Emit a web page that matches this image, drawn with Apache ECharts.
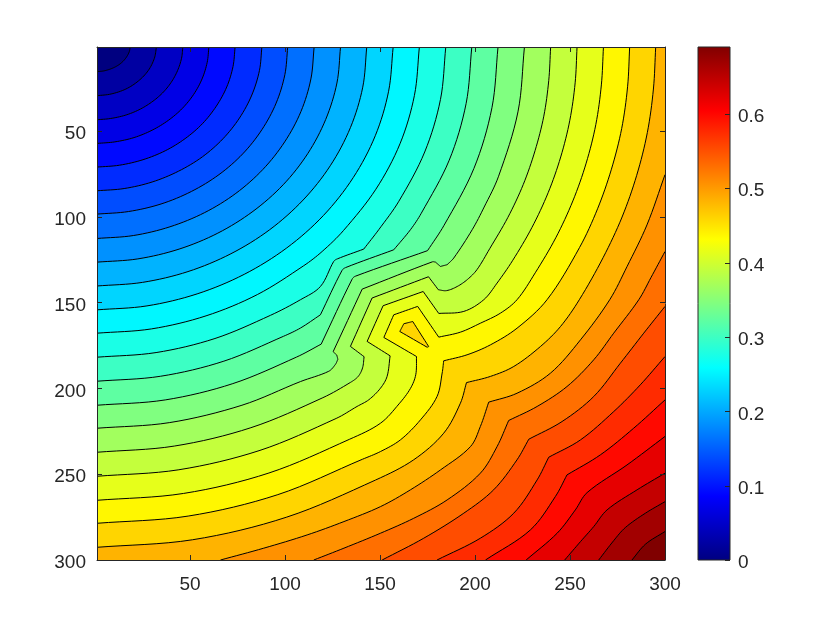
<!DOCTYPE html>
<html>
<head>
<meta charset="utf-8">
<style>
  html, body { margin: 0; padding: 0; background: #fff; }
  #main { width: 840px; height: 630px; }
</style>
<script src="https://cdn.jsdelivr.net/npm/echarts@6/dist/echarts.min.js"></script>
</head>
<body>
<div id="main"></div>
<script>
// contour lines, as [x, y] in data units, from the left/bottom edge to the top/right edge
const line01 = [[1,15.4],[4.8,14.9],[9.3,13.3],[13.1,10.9],[16,7.7],[17.9,4],[18.5,1]];
const line02 = [[1,29.4],[8.4,28.4],[16.2,25.5],[22.8,20.8],[28,14.7],[31.2,7.6],[32.3,1]];
const line03 = [[1,43.4],[8,42.7],[15.8,40.8],[23.1,37.6],[29.7,33.2],[35.4,27.9],[40,21.7],[43.4,14.8],[45.5,7.6],[46.2,1]];
const line04 = [[1,57.2],[10.4,56.3],[20.5,53.8],[30,49.5],[38.5,43.8],[45.9,36.8],[51.9,28.6],[56.3,19.6],[59,10],[59.9,1]];
const line05 = [[1,71],[12.8,69.9],[25.2,66.7],[36.9,61.5],[47.4,54.4],[56.5,45.7],[63.8,35.5],[69.3,24.3],[72.6,12.4],[73.7,1]];
const line06 = [[1,84.8],[15.3,83.5],[30,79.7],[43.9,73.4],[56.5,65],[67.3,54.5],[76,42.4],[82.5,29],[86.5,14.8],[87.8,1]];
const line07 = [[1,98.4],[17.6,96.9],[34.7,92.5],[50.7,85.2],[65.2,75.4],[77.7,63.3],[87.8,49.2],[95.3,33.7],[99.9,17.1],[101.4,1]];
const line08 = [[1,112.6],[20.1,110.9],[39.4,105.8],[57.7,97.5],[74.1,86.3],[88.3,72.4],[99.8,56.3],[108.4,38.5],[113.6,19.6],[115.3,1]];
const line09 = [[1,126.4],[22.5,124.5],[44.2,118.8],[64.6,109.5],[83.1,96.8],[99,81.3],[111.9,63.2],[121.4,43.2],[127.3,22],[129.2,1]];
const line10 = [[1,140.3],[24.9,138.2],[48.9,131.9],[71.5,121.5],[91.9,107.5],[109.5,90.2],[123.8,70.2],[134.4,48],[140.9,24.4],[143,1]];
const line11 = [[1,154.2],[27.3,151.9],[53.7,144.9],[78.5,133.5],[100.9,118.1],[120.2,99.2],[135.9,77.1],[147.5,52.7],[154.5,26.8],[156.9,1]];
const line12 = [[1,167.8],[29.7,165.3],[58.4,157.7],[85.4,145.3],[109.8,128.5],[119.5,120.2],[130.8,107.9],[147.8,83.9],[160.5,57.4],[168.1,29.2],[170.7,1]];
const line13 = [[1,181.8],[32.1,179.1],[63.1,170.9],[92.3,157.4],[108.1,148.3],[118.6,140.6],[125.6,126],[127.5,124.5],[141.4,118.8],[149.3,107.5],[159.9,90.9],[173.5,62.2],[181.8,31.6],[184.6,1]];
const line14 = [[1,195.8],[34.5,192.9],[67.8,184.1],[99.2,169.6],[108.1,164.8],[118.6,157.1],[130,131.2],[132,129.5],[157.2,119.2],[166,107.5],[171.7,97.9],[186.4,67],[195.3,34],[198.3,1]];
const line15 = [[1,209.8],[36.9,206.7],[72.5,197.2],[106.1,181.7],[119,174.2],[135.3,136.3],[137,134.6],[175,119.7],[183.7,104.9],[199.4,71.8],[208.9,36.4],[212.1,1]];
const line16 = [[1,223.2],[39.3,219.9],[77.3,209.8],[108.1,196],[123,190],[126.5,186],[127.8,183],[127.2,180.5],[125.3,178.6],[140.6,142.1],[177.6,126.2],[179.2,126.4],[181.8,128.9],[185.3,127.9],[188.8,124],[198.5,107.5],[204.8,94.3],[212.4,76.3],[222.6,38.8],[226,1]];
const line17 = [[1,237.2],[41.7,233.6],[82,222.9],[119.9,205.4],[134.4,196.5],[138.5,193],[140.8,188],[141.6,181.5],[134.4,175.5],[145.8,147.3],[175.5,134.9],[180.7,142.5],[185,143],[190.6,140.6],[196,136.5],[201,130.8],[207.7,118.6],[217.3,100.3],[225.4,81.1],[231.6,61.4],[236.2,41.3],[238.8,20.6],[239.8,1]];
const line18 = [[1,251.2],[44.1,247.4],[86.8,236.1],[126.9,217.5],[137.9,210.5],[144.1,206.6],[150.2,199.9],[153.7,193],[155.3,181],[143.2,172.6],[151.6,151.8],[172.7,143.5],[180.9,156.3],[194.1,155.1],[204.6,148.3],[211.6,138.6],[219.7,125.6],[229.9,106.3],[238.5,85.9],[245.1,65.1],[249.9,43.7],[252.7,21.9],[253.7,1]];
const line19 = [[1,265.2],[46.6,261.2],[91.5,249.3],[133.8,229.7],[150.2,220.3],[160,209],[166,200],[168.8,192],[169.2,181.4],[152,170.3],[157.2,157.1],[169.8,152.2],[180.9,170.1],[192.3,167.2],[202.8,162],[213.4,156.1],[222.1,148.3],[231.7,132.6],[242.5,112.2],[251.5,90.7],[258.5,68.7],[263.6,46.1],[266.5,23.1],[267.6,1]];
const line20 = [[1,278.6],[49,274.4],[96.2,261.9],[140.7,241.3],[150.2,236.8],[160.7,230],[171.3,218.3],[180,204.7],[182.7,191],[183.5,183.9],[195.8,180.4],[208.1,174.6],[222.1,164.9],[237.9,148.3],[255,117.9],[264.5,95.3],[271.8,72.2],[277.2,48.5],[280.3,24.2],[281.4,1]];
const line21 = [[1,292.6],[51.3,288.2],[100.9,275],[147.6,253.4],[167.7,241.6],[183.5,226.1],[192.3,208.6],[195.5,196.6],[208.1,193],[220.4,187.2],[234.4,175.6],[245,163.9],[254.9,148.3],[267.4,123.8],[277.4,100.1],[285.1,75.8],[290.7,50.9],[293.9,25.5],[295.1,1]];
const line22 = [[66,300],[88.8,293.1],[111.6,285.4],[131,277.6],[150.2,268.9],[166,259.1],[181.8,247.5],[197.6,233.9],[202.8,222.2],[207.2,208],[222.1,202.8],[239.7,191.1],[255.5,171.7],[270.9,148.3],[280,129],[290.5,104.7],[300,75.4]];
const line23 = [[115.1,300],[131,293.1],[150.2,284.4],[167.7,275.7],[185.3,265],[202.8,249.4],[211.6,233.9],[217.7,218.7],[232.7,210.5],[248.4,198.9],[262.5,183.3],[273,167.8],[286.2,148.3],[292.6,135.4],[300,120.2]];
const line24 = [[151.1,300],[173,287.3],[194.1,272.7],[209.8,259.1],[222.1,241.6],[228.3,229.6],[245.8,219.3],[262.5,204.7],[276.5,185.3],[288.8,167.8],[300,152.2]];
const line25 = [[180,300],[202.8,287.3],[220.4,272.7],[232.7,253.3],[238.8,240.1],[255.5,230],[273,213.5],[287,197.9],[300,181.4]];
const line26 = [[205.5,300],[229.1,282.5],[242.3,263],[248.4,250.4],[266,238.7],[283.5,223.2],[300,206.7]];
const line27 = [[226.9,300],[243.2,284.4],[252.8,270.8],[259,260.7],[280,244.6],[300,228]];
const line28 = [[247.2,300],[255.5,289.3],[262.5,280.5],[269.5,270.8],[285.3,259.1],[300,249.4]];
const line29 = [[265.1,300],[273,288.7],[279.1,281.1],[289.7,272.7],[300,266]];
const line30 = [[282.6,300],[289.7,290.8],[300,283.4]];
const island = [[160.4,166.8],[162.5,162.3],[167.2,161],[175.6,175.6],[174.8,176],[160.4,166.8]];

const contourLines = [line01, line02, line03, line04, line05, line06, line07, line08, line09, line10,
  line11, line12, line13, line14, line15, line16, line17, line18, line19, line20,
  line21, line22, line23, line24, line25, line26, line27, line28, line29, line30, island];
const contourLevels = [0.023, 0.046, 0.069, 0.092, 0.115, 0.138, 0.161, 0.184, 0.207, 0.23,
  0.253, 0.276, 0.299, 0.322, 0.345, 0.368, 0.391, 0.414, 0.437, 0.46,
  0.483, 0.506, 0.529, 0.552, 0.575, 0.598, 0.621, 0.644, 0.667, 0.69, 0.46];

const xTicks = [50, 100, 150, 200, 250, 300];
const yTicks = [50, 100, 150, 200, 250, 300];
const barTicks = [0, 0.1, 0.2, 0.3, 0.4, 0.5, 0.6];
const zMax = 0.69;
const jet = ['#000080', '#0000ff', '#0080ff', '#00ffff', '#80ff80', '#ffff00', '#ff8000', '#ff0000', '#800000'];

const axisColor = '#262626';
const axisFont = { color: axisColor, fontSize: 19, fontFamily: 'Liberation Sans' };
// the vertical labels sit a little below their ticks
const sideLabel = { verticalAlign: 'top', lineHeight: 6 };

function plotAxis(position, ticks, showLabels) {
  const horizontal = position === 'top' || position === 'bottom';
  return {
    type: 'value',
    gridIndex: 0,
    position: position,
    min: 1,
    max: 300,
    inverse: !horizontal,
    z: 5,
    splitLine: { show: false },
    axisLine: { show: true, onZero: false, lineStyle: { color: axisColor, width: 1 } },
    axisTick: { show: true, inside: true, length: 5, customValues: ticks, lineStyle: { color: axisColor, width: 1 } },
    axisLabel: Object.assign({
      show: showLabels,
      customValues: ticks,
      margin: horizontal ? 15 : 11
    }, axisFont, horizontal ? {} : sideLabel)
  };
}

// round the read points into a curve on screen, real corners stay sharp
function curve(points) {
  const n = points.length;
  if (n < 3) return points;
  const dirs = points.map((p, i) => {
    const a = points[Math.max(i - 1, 0)];
    const b = points[Math.min(i + 1, n - 1)];
    if (i > 0 && i < n - 1) {
      const inc = [p[0] - a[0], p[1] - a[1]];
      const out = [b[0] - p[0], b[1] - p[1]];
      const turn = Math.abs(Math.atan2(inc[0] * out[1] - inc[1] * out[0], inc[0] * out[0] + inc[1] * out[1]));
      if (turn > 0.5) return null;
    }
    const len = Math.hypot(b[0] - a[0], b[1] - a[1]) || 1;
    return [(b[0] - a[0]) / len, (b[1] - a[1]) / len];
  });
  const out = [points[0]];
  for (let i = 0; i < n - 1; i++) {
    const p = points[i];
    const q = points[i + 1];
    const len = Math.hypot(q[0] - p[0], q[1] - p[1]);
    const seg = [(q[0] - p[0]) / (len || 1), (q[1] - p[1]) / (len || 1)];
    const d0 = dirs[i] || seg;
    const d1 = dirs[i + 1] || seg;
    for (let s = 1; s <= 8; s++) {
      const t = s / 8;
      const h00 = 2 * t * t * t - 3 * t * t + 1;
      const h10 = t * t * t - 2 * t * t + t;
      const h01 = -2 * t * t * t + 3 * t * t;
      const h11 = t * t * t - t * t;
      out.push([
        h00 * p[0] + h10 * len * d0[0] + h01 * q[0] + h11 * len * d1[0],
        h00 * p[1] + h10 * len * d0[1] + h01 * q[1] + h11 * len * d1[1]
      ]);
    }
  }
  return out;
}

function renderContour(params, api) {
  const line = contourLines[params.dataIndex];
  const first = line[0];
  const last = line[line.length - 1];
  const path = curve(line.map(p => api.coord(p)));
  const area = path.slice();
  // open lines are closed round the high-value corner, the island closes on itself
  if (!(first[0] === last[0] && first[1] === last[1])) {
    if (last[1] === 1) area.push(api.coord([300, 1]));
    area.push(api.coord([300, 300]));
    if (first[0] === 1) area.push(api.coord([1, 300]));
  }
  return {
    type: 'group',
    children: [
      {
        type: 'polygon',
        shape: { points: area },
        style: { fill: echarts.color.lerp(contourLevels[params.dataIndex] / zMax, jet), stroke: null }
      },
      {
        type: 'polyline',
        shape: { points: path },
        style: { fill: null, stroke: '#000', lineWidth: 1 }
      }
    ]
  };
}

function renderBar(params, api) {
  const a = api.coord([0, zMax]);
  const b = api.coord([1, 0]);
  const children = [{
    type: 'rect',
    shape: { x: a[0], y: a[1], width: b[0] - a[0], height: b[1] - a[1] },
    style: {
      fill: new echarts.graphic.LinearGradient(0, 1, 0, 0, jet.map((c, i) => ({ offset: i / (jet.length - 1), color: c }))),
      stroke: axisColor,
      lineWidth: 1
    }
  }];
  barTicks.forEach(v => {
    const p = api.coord([1, v]);
    const y = Math.round(p[1]) + 0.5;
    children.push({
      type: 'line',
      shape: { x1: p[0] - 5, y1: y, x2: p[0], y2: y },
      style: { stroke: axisColor, lineWidth: 1 }
    });
  });
  return { type: 'group', children: children };
}

const chart = echarts.init(document.getElementById('main'), null, { renderer: 'canvas' });
chart.setOption({
  animation: false,
  backgroundColor: '#fff',
  grid: [
    { left: 97, top: 47, width: 568, height: 513, show: true, backgroundColor: jet[0], borderWidth: 0 },
    { left: 698, top: 47, width: 32, height: 513 }
  ],
  xAxis: [
    plotAxis('bottom', xTicks, true),
    plotAxis('top', xTicks, false),
    { type: 'value', gridIndex: 1, min: 0, max: 1, show: false }
  ],
  yAxis: [
    plotAxis('left', yTicks, true),
    plotAxis('right', yTicks, false),
    {
      type: 'value',
      gridIndex: 1,
      position: 'right',
      min: 0,
      max: zMax,
      z: 5,
      splitLine: { show: false },
      axisLine: { show: false },
      axisTick: { show: false },
      axisLabel: Object.assign({ customValues: barTicks, margin: 8 }, axisFont, sideLabel)
    }
  ],
  series: [
    {
      type: 'custom',
      xAxisIndex: 0,
      yAxisIndex: 0,
      silent: true,
      renderItem: renderContour,
      data: contourLevels.map((v, i) => [i])
    },
    {
      type: 'custom',
      xAxisIndex: 2,
      yAxisIndex: 2,
      silent: true,
      renderItem: renderBar,
      data: [[0]]
    }
  ]
});
</script>
</body>
</html>
